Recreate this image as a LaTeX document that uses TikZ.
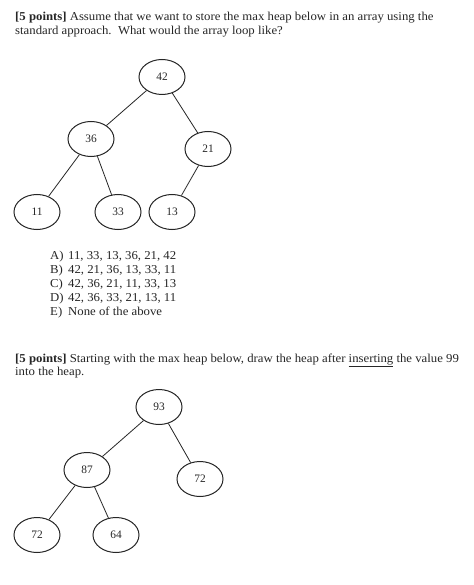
\documentclass[tikz,border=0pt]{standalone}
\usepackage{fontspec}
\setmainfont{Liberation Serif}
\newfontfamily\bodyface[FakeStretch=1.055]{Liberation Serif}
\usetikzlibrary{shapes.geometric}
\definecolor{ink}{HTML}{262626}
\newcommand{\BodyF}{\bodyface\fontsize{12.1}{13}\selectfont}
\newcommand{\KeyF}{\fontsize{11.4}{13}\selectfont}
\tikzset{
  keynode/.style={ellipse, draw=ink, line width=1pt, minimum width=46pt, minimum height=35pt, inner sep=0pt, font=\KeyF, text=ink},
  prose/.style={anchor=base west, font=\BodyF, text=ink, inner sep=0pt},
  branch/.style={draw=ink, line width=0.8pt},
}

\begin{document}
\begin{tikzpicture}[x=1pt,y=-1pt]
\useasboundingbox[fill=white] (0,0) rectangle (473,585);
% first question
\node[prose] (qa1) at (15,21) {\textbf{[5 points]} Assume that we want to store the max heap below in an array using the};
\node[prose] (qa2) at (15,35) {standard approach.\ \ What would the array loop like?};

% heap one
\node[keynode] (h42) at (162,77) {42};
\node[keynode] (h36) at (91,139) {36};
\node[keynode] (h21) at (208,149) {21};
\node[keynode] (h11) at (37,212) {11};
\node[keynode] (h33) at (118,212) {33};
\node[keynode] (h13) at (172,212) {13};
\draw[branch] (h42) -- (h36);
\draw[branch] (h42) -- (h21);
\draw[branch] (h36) -- (h11);
\draw[branch] (h36) -- (h33);
\draw[branch] (h21) -- (h13);

% answer choices
\foreach \tag/\vals [count=\i] in {A/{11, 33, 13, 36, 21, 42}, B/{42, 21, 36, 13, 33, 11},
    C/{42, 36, 21, 11, 33, 13}, D/{42, 36, 33, 21, 13, 11}, E/{None of the above}} {
  \node[prose] (opt\tag) at (50,245+14*\i) {\tag)};
  \node[prose] (val\tag) at (68,245+14*\i) {\vals};
}

% second question
\node[prose] (qb1) at (15,362) {\textbf{[5 points]} Starting with the max heap below, draw the heap after \underline{inserting} the value 99};
\node[prose] (qb2) at (15,375) {into the heap.};

% heap two
\node[keynode] (k93) at (159,407) {93};
\node[keynode] (k87) at (87,470) {87};
\node[keynode] (k72r) at (200,479) {72};
\node[keynode] (k72l) at (37,535) {72};
\node[keynode] (k64) at (116,535) {64};
\draw[branch] (k93) -- (k87);
\draw[branch] (k93) -- (k72r);
\draw[branch] (k87) -- (k72l);
\draw[branch] (k87) -- (k64);
\end{tikzpicture}
\end{document}
